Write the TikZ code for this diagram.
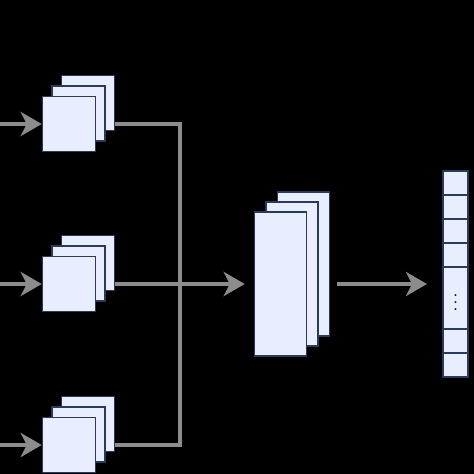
\documentclass[tikz,border=0pt]{standalone}
\usepackage{amsmath}
\usepackage{tikz}
\usetikzlibrary{arrows.meta,positioning}
\definecolor{sheetfill}{HTML}{E8EEFD}
\definecolor{sheetline}{HTML}{2B3A5C}
\definecolor{linkgray}{HTML}{8C8C8C}

\begin{document}
\begin{tikzpicture}[x=1pt,y=-1pt,>={Stealth[length=21pt,width=24pt,inset=6pt]},
                    sheet/.style={rectangle,draw=sheetline,fill=sheetfill,line width=1.5pt,inner sep=0pt},
                    small sheet/.style={sheet,minimum width=53pt,minimum height=55pt},
                    tall sheet/.style={sheet,minimum width=52pt,minimum height=144pt},
                    cell/.style={sheet,outer sep=0pt,minimum width=25pt,minimum height=24pt},
                    link/.style={draw=linkgray,line width=4.5pt}]

  \fill[black] (0,0) rectangle (474,474);
  \useasboundingbox (0,0) rectangle (474,474);

  % three small stacks, back to front
  \node[small sheet] (a3) at (88,103) {};
  \node[small sheet] (a2) at (78.5,113.5) {};
  \node[small sheet] (a1) at (69,124) {};

  \node[small sheet] (b3) at (88,263) {};
  \node[small sheet] (b2) at (78.5,273.5) {};
  \node[small sheet] (b1) at (69,284) {};

  \node[small sheet] (c3) at (88,424) {};
  \node[small sheet] (c2) at (78.5,434.5) {};
  \node[small sheet] (c1) at (69,445) {};

  % tall stack
  \node[tall sheet] (t3) at (303.5,264) {};
  \node[tall sheet] (t2) at (292,274) {};
  \node[tall sheet] (t1) at (280.5,284) {};

  % output column
  \node[cell] (v1) at (455.5,183) {};
  \node[cell] (v2) [below=0pt of v1] {};
  \node[cell] (v3) [below=0pt of v2] {};
  \node[cell] (v4) [below=0pt of v3] {};
  \node[cell,minimum height=62pt] (v5) [below=0pt of v4] {};
  \node[cell] (v6) [below=0pt of v5] {};
  \node[cell] (v7) [below=0pt of v6] {};
  \node[inner sep=0pt,yshift=1pt] (dots) at (v5) {\scalebox{1.8}{\boldmath$\vdots$}};

  \coordinate (ina) at (0,124);
  \coordinate (inb) at (0,284);
  \coordinate (inc) at (0,445);
  \coordinate (hub) at (180,284);

  \draw[link,->] (ina) -- (a1.west);
  \draw[link,->] (inb) -- (b1.west);
  \draw[link,->] (inc) -- (c1.west);

  \draw[link] (a3.east |- a1) -| (hub) |- (c3.east |- c1);
  \draw[link] (b3.east |- b1) -- (hub);
  \draw[link,->,shorten >=9pt] (hub) -- (t1.west);
  \draw[link,->,shorten <=7pt,shorten >=16pt] (t3.east |- t1) -- (v5.west |- t1);
\end{tikzpicture}
\end{document}
